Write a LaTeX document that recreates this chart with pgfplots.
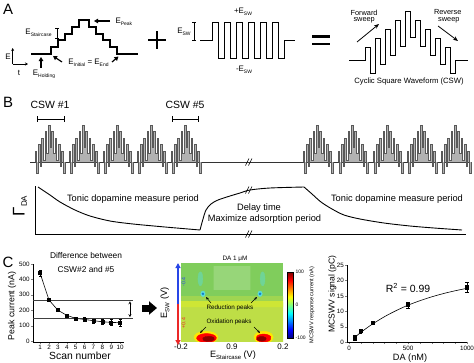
\documentclass[border=0pt]{standalone}
\usepackage{fontspec}
\setmainfont{Liberation Sans}
\usepackage{pgfplots}
\pgfplotsset{compat=1.18}
\usepackage{pgfplotstable}
\usetikzlibrary{arrows.meta}
\newcommand{\fs}[1]{\fontsize{#1}{#1}\selectfont}
\newcommand{\Esub}[2][5]{E\raisebox{-0.45ex}{\fs{#1}#2}}
\definecolor{hmgreen}{RGB}{128,205,92}
\definecolor{hmyellow}{RGB}{190,222,70}
\definecolor{hmcyan}{RGB}{90,220,220}
\definecolor{bluearr}{RGB}{40,70,230}
\definecolor{redarr}{RGB}{235,40,40}

% one CSW burst of panel B (time offset, pixel offset from baseline; negative = up)
\pgfplotstableread{
t dy
0 0
0 -11
1.67 -11
1.67 11
3.33 11
3.33 -17.5
5 -17.5
5 4.5
6.67 4.5
6.67 -24
8.33 -24
8.33 -2
10 -2
10 -30.5
11.67 -30.5
11.67 -8.5
13.33 -8.5
13.33 -37
15 -37
15 -15
16.67 -15
16.67 -30.5
18.33 -30.5
18.33 -8.5
20 -8.5
20 -24
21.67 -24
21.67 -2
23.33 -2
23.33 -17.5
25 -17.5
25 4.5
26.67 4.5
26.67 -11
28.33 -11
28.33 11
30 11
30 0
}\burst

\begin{document}
\begin{tikzpicture}
\path[use as bounding box] (0bp,0bp) rectangle (474bp,363bp);

% ---------- Panel C left: peak current vs scan number ----------
\begin{axis}[at={(33bp,21.2bp)}, anchor=south west, scale only axis,
  width=90.7bp, height=77.8bp,
  xmin=0.2, xmax=10.4, ymin=-5, ymax=500,
  axis lines*=left, clip=false,
  xtick={1,...,10}, ytick={0,100,...,500},
  tick align=outside, major tick length=2bp,
  tick label style={font=\fs{6.3}},
  yticklabel style={inner sep=1.2bp}, xticklabel style={inner sep=1.5bp},
  /pgf/number format/assume math mode=true,
  every axis plot/.append style={line width=0.6pt}]
\addplot[black, mark=square*, mark size=1.5bp,
  error bars/.cd, y dir=both, y explicit, error bar style={line width=0.5pt},
  error mark options={rotate=90, mark size=1.5bp}]
  coordinates {(1,440) +- (0,20) (2,266) +- (0,8) (3,200) +- (0,5) (4,167) +- (0,5)
   (5,147) +- (0,10) (6,140) +- (0,12) (7,132) +- (0,15) (8,125) +- (0,17)
   (9,121) +- (0,19) (10,119) +- (0,21)};
\addplot[black!75, line width=0.7pt] coordinates {(0.2,266) (11.5,266)};
\addplot[black!75, line width=0.7pt] coordinates {(0.2,147) (11.5,147)};
\draw[{Stealth[length=3bp,width=3bp,open]}-{Stealth[length=3bp,width=3bp,open]}, line width=0.5pt]
  (axis cs:11.1,258) -- (axis cs:11.1,155);
\end{axis}

% ---------- Panel C middle: heat map ----------
\begin{axis}[at={(181bp,21bp)}, anchor=south west, scale only axis,
  width=102bp, height=79bp,
  xmin=0, xmax=1, ymin=0, ymax=1,
  axis line style={draw=none},
  axis background/.style={fill=hmgreen},
  clip marker paths=true,
  xtick={0,0.5,1}, xticklabels={-0.2,0.9,0.2},
  ytick=\empty, major tick length=0pt,
  tick label style={font=\fs{8}}, xticklabel style={inner sep=1.5bp},
  colormap/jet,
  point meta min=-100, point meta max=100,
  colorbar,
  colorbar style={at={(1.04,0.05)}, anchor=south west,
    width=6bp, height=66bp, ytick={-100,0,100},
    major tick length=0pt,
    yticklabel style={font=\fs{5}, xshift=-1bp},
    ylabel={MCSWV response current (nA)},
    ylabel style={font=\fs{5.6}, yshift=3bp},
    /pgf/number format/assume math mode=true}]
\addplot[draw=none, fill=hmyellow] coordinates {(0,0) (1,0) (1,0.5) (0,0.5) (0,0)};
\addplot[draw=none, fill=hmyellow!75!yellow] coordinates {(0,0.44) (1,0.44) (1,0.52) (0,0.52) (0,0.44)};
\addplot[draw=none, fill=hmyellow!50!hmgreen] coordinates {(0,0.52) (1,0.52) (1,0.58) (0,0.58) (0,0.52)};
\addplot[draw=none, fill=hmgreen!82!white] coordinates {(0.32,0.66) (0.68,0.66) (0.68,0.96) (0.32,0.96) (0.32,0.66)};
% reduction peaks (cyan)
\addplot[hmcyan!45!hmgreen, only marks, mark=*, mark size=7bp, mark options={draw=none, fill=hmcyan!45!hmgreen, xscale=0.35}]
  coordinates {(0.19,0.8) (0.8,0.8)};
\addplot[hmcyan, only marks, mark=*, mark size=2.8bp, mark options={draw=none, fill=hmcyan, xscale=0.8}]
  coordinates {(0.215,0.61) (0.775,0.61)};
\addplot[cyan!60!blue, only marks, mark=*, mark size=1bp, mark options={draw=none, fill=cyan!60!blue}]
  coordinates {(0.215,0.61) (0.775,0.61)};
% oxidation peaks (red)
\addplot[yellow!90!orange, only marks, mark=*, mark size=6bp, mark options={draw=none, fill=yellow!90!orange, xscale=2.0, rotate=-18}]
  coordinates {(0.245,0.06)};
\addplot[yellow!90!orange, only marks, mark=*, mark size=6bp, mark options={draw=none, fill=yellow!90!orange, xscale=1.6, rotate=18}]
  coordinates {(0.81,0.06)};
\addplot[red, only marks, mark=*, mark size=4.5bp, mark options={draw=none, fill=red, xscale=2.2, rotate=-18}]
  coordinates {(0.25,0.05)};
\addplot[red, only marks, mark=*, mark size=4bp, mark options={draw=none, fill=red, xscale=1.9, rotate=18}]
  coordinates {(0.81,0.05)};
\addplot[red!55!black, only marks, mark=*, mark size=2.6bp, mark options={draw=none, fill=red!55!black, xscale=2.3, rotate=-18}]
  coordinates {(0.27,0.04)};
\addplot[red!55!black, only marks, mark=*, mark size=2.4bp, mark options={draw=none, fill=red!55!black, xscale=2.0, rotate=18}]
  coordinates {(0.79,0.04)};
\end{axis}

% ---------- Panel C right: calibration ----------
\begin{axis}[at={(347bp,20.7bp)}, anchor=south west, scale only axis,
  width=120bp, height=77.3bp,
  xmin=-17, xmax=1000, ymin=0, ymax=25,
  axis lines*=left, clip=false,
  xtick={0,500,1000}, minor xtick={100,200,300,400,600,700,800,900},
  ytick={0,5,...,25},
  tick align=outside, major tick length=2bp, minor tick length=1.3bp,
  tick label style={font=\fs{6.3}},
  yticklabel style={inner sep=1bp}, xticklabel style={inner sep=1.5bp},
  /pgf/number format/assume math mode=true,
  /pgf/number format/1000 sep={},
  every axis plot/.append style={line width=0.6pt}]
\addplot[black, smooth] coordinates {(50,1.66) (100,3.19) (150,4.61) (200,5.93) (300,8.27)
  (400,10.26) (500,12.0) (600,13.44) (700,14.69) (800,15.76) (900,16.67) (1000,17.46)};
\addplot[black, only marks, mark=square*, mark size=1.6bp,
  error bars/.cd, y dir=both, y explicit, error bar style={line width=0.5pt},
  error mark options={rotate=90, mark size=1.6bp}]
  coordinates {(50,1.6) +- (0,0.8) (100,3.6) +- (0,0.7) (200,6.3) +- (0,0.6)
   (500,12.0) +- (0,1.1) (1000,17.8) +- (0,1.6)};
\end{axis}

% ---------- Overlay in pixel coordinates ----------
\begin{axis}[at={(0bp,363bp)}, anchor=north west, scale only axis,
  width=474bp, height=363bp, xmin=0, xmax=474, ymin=0, ymax=363,
  y dir=reverse, hide axis, clip=false,
  every node/.append style={inner sep=0.5bp}]
% Panel A: staircase
\addplot[black, line width=1.1pt] coordinates {(31,54) (51,54) (51,47) (58,47) (58,40) (65,40)
  (65,34) (72,34) (72,27) (79,27) (79,20) (89,20) (89,27) (96,27) (96,34) (103,34)
  (103,40) (110,40) (110,47) (117,47) (117,54) (138,54)};
% square wave
\addplot[black, line width=0.9pt] coordinates {(200,40) (212,40) (212,22) (218,22) (218,58) (224,58)
  (224,22) (230,22) (230,58) (236,58) (236,22) (242,22) (242,58) (248,58) (248,22) (254,22)
  (254,58) (260,58) (260,22) (266,22) (266,58) (272,58) (272,22) (278,22) (278,58) (284,58)
  (284,40) (295,40)};
% cyclic square waveform
\addplot[black, line width=0.9pt] coordinates {(349,60) (365,60) (365,47) (370,47) (370,73) (375,73)
  (375,38) (380,38) (380,64) (385,64) (385,29) (390,29) (390,55) (395,55)
  (395,20) (400,20) (400,46) (405,46) (405,11) (410,11) (410,37) (415,37)
  (415,20) (420,20) (420,46) (425,46) (425,29) (430,29) (430,55) (435,55)
  (435,38) (440,38) (440,64) (445,64) (445,47) (450,47) (450,73) (455,73) (455,60) (468,60)};
% Panel B: baseline and bursts
\addplot[black!80, line width=0.6pt] coordinates {(30,162) (472,162)};
\pgfplotsinvokeforeach{35,69,103,137,171,303,338,373,407,441}{
  \addplot[black!65, fill=black!30, line width=0.45pt] table[x expr=\thisrow{t}+#1, y expr=\thisrow{dy}+162]{\burst};
}
% Panel B: adsorption curve
\addplot[black, line width=0.9pt, smooth] coordinates {(38,187) (50,195) (60,202) (75,210) (90,216)
  (110,221) (133,224) (165,227) (200,230)};
\addplot[black, line width=0.9pt, smooth] coordinates {(200,230) (203,219) (206,210) (211,204)
  (218,200) (230,196) (240,193) (250,190) (270,188) (304,187)};
\addplot[black, line width=0.9pt, smooth] coordinates {(304,187) (312,194) (321,202) (332,209)
  (344,215) (360,219) (384,223) (410,226) (434,228) (462,230)};
\addplot[black, line width=0.6pt] coordinates {(35,186) (35,234) (466,234)};

% breaks
\draw[line width=0.6pt] (245.5,165.5) -- (249,158.5) (248.5,165.5) -- (252,158.5);
\draw[line width=0.6pt] (245.5,193.5) -- (249,186.5) (248.5,193.5) -- (252,186.5);
\draw[line width=0.6pt] (245.5,237.5) -- (249,230.5) (248.5,237.5) -- (252,230.5);

% Panel A annotations
\node[font=\fs{15}] at (8,9) {A};
\draw[-{Stealth[length=3bp,width=3bp]}, line width=0.6pt] (12.7,64) -- (12.7,48);
\draw[-{Stealth[length=3bp,width=3bp]}, line width=0.6pt] (12.7,64) -- (28,64);
\node[font=\fs{8}] at (8,57) {E};
\node[font=\fs{8}] at (19,73) {t};
\node[font=\fs{8}] at (38.5,33) {\Esub{Staircase}};
\draw[line width=0.6pt] (57,28) -- (57,38) (55.3,28) -- (58.7,28) (55.3,38) -- (58.7,38);
\draw[-{Triangle[length=4bp,width=4.5bp]}, line width=1.2pt] (110,21) -- (94,21);
\node[font=\fs{8}, anchor=west] at (112,22) {\Esub{Peak}};
\draw[-{Triangle[length=4bp,width=4.5bp]}, line width=1.2pt] (41,68) -- (41,57);
\node[font=\fs{8}] at (44,74) {\Esub{Holding}};
\node[font=\fs{8}] at (88.5,62.5) {\Esub{Initial} = \Esub{End}};
\draw[-{Triangle[length=4bp,width=4.5bp]}, line width=1.2pt] (62,62) -- (53,56);
\draw[-{Triangle[length=4bp,width=4.5bp]}, line width=1.2pt] (112,62) -- (118.5,56.5);
\draw[line width=2.6pt] (148,40) -- (166,40) (157,31) -- (157,49);
\node[font=\fs{8}] at (184,32) {\Esub{SW}};
\draw[line width=0.6pt] (194,22) -- (194,40) (192.3,22) -- (195.7,22) (192.3,40) -- (195.7,40);
\node[font=\fs{8}] at (243,12) {+\Esub{SW}};
\node[font=\fs{8}] at (244,70) {-\Esub{SW}};
\draw[line width=2.6pt] (312,36.5) -- (330,36.5) (312,44) -- (330,44);
\node[font=\fs{7.4}, anchor=west] at (347,12.5) {Forward};
\node[font=\fs{7.4}, anchor=west] at (350,20) {sweep};
\draw[-{Stealth[length=5bp,width=4bp]}, line width=0.8pt] (357,42) -- (379,24);
\node[font=\fs{7.4}, anchor=east] at (465,12.5) {Reverse};
\node[font=\fs{7.4}, anchor=east] at (463,20) {sweep};
\draw[-{Stealth[length=5bp,width=4bp]}, line width=0.8pt] (438,26) -- (458,41);
\node[font=\fs{7.7}] at (409,82) {Cyclic Square Waveform (CSW)};

% Panel B annotations
\node[font=\fs{15}] at (8,102) {B};
\node[font=\fs{10.5}] at (50,104.5) {CSW \#1};
\draw[line width=0.6pt] (37,119) -- (64,119) (37,116) -- (37,122) (64,116) -- (64,122);
\node[font=\fs{10.5}] at (185,104.5) {CSW \#5};
\draw[line width=0.6pt] (172,119) -- (198,119) (172,116) -- (172,122) (198,116) -- (198,122);
\node[font=\fs{9.3}] at (133,199) {Tonic dopamine measure period};
\node[font=\fs{9.3}] at (397,199) {Tonic dopamine measure period};
\node[font=\fs{9.3}] at (259,208.5) {Delay time};
\node[font=\fs{9.3}] at (264.5,219) {Maximize adsorption period};
\node[rotate=90] at (20,206) {\fs{17}Γ\raisebox{-0.25ex}{\fs{8}DA}};

% Panel C annotations
\node[font=\fs{15}] at (8,262) {C};
\node[font=\fs{8.4}] at (86,256) {Difference between};
\node[font=\fs{8.4}] at (86,270) {CSW\#2 and \#5};
\node[font=\fs{10.4}] at (80,356) {Scan number};
\node[font=\fs{8.8}, rotate=90] at (12,306) {Peak current (nA)};
\draw[-{Triangle[length=8bp,width=13bp]}, line width=7bp] (142,308) -- (157,308);
\node[font=\fs{6.4}] at (235,258.5) {DA 1 μM};
\node[font=\fs{9.2}] at (233,355.5) {\Esub[6]{Staircase} (V)};
\node[font=\fs{9.2}, rotate=90] at (165,303) {\Esub[6]{SW} (V)};
\draw[-{Triangle[length=5bp,width=5bp]}, line width=1.2pt, bluearr] (178,304) -- (178,263);
\draw[-{Triangle[length=5bp,width=5bp]}, line width=1.2pt, redarr] (178,304) -- (178,345);
\node[font=\fs{5.2}, rotate=90, text=bluearr] at (183.5,282) {-0.4};
\node[font=\fs{5.2}, rotate=90, text=redarr] at (183.5,323) {+0.4};
\node[font=\fs{6.3}] at (230,308) {Reduction peaks};
\node[font=\fs{6.3}] at (229,322) {Oxidation peaks};
\draw[-{Stealth[length=3bp,width=2.5bp]}, line width=0.5pt] (211,303) -- (206,297);
\draw[-{Stealth[length=3bp,width=2.5bp]}, line width=0.5pt] (251,303) -- (257,297);
\draw[-{Stealth[length=3bp,width=2.5bp]}, line width=0.5pt] (206,327) -- (200,333);
\draw[-{Stealth[length=3bp,width=2.5bp]}, line width=0.5pt] (254,327) -- (260,333);
\node[font=\fs{9.2}] at (410,358) {DA (nM)};
\node[font=\fs{8.6}, rotate=90] at (332.5,294) {MCSWV signal (pC)};
\node[font=\fs{10.5}] at (408,288) {R\textsuperscript{2} = 0.99};
\end{axis}
\end{tikzpicture}
\end{document}
